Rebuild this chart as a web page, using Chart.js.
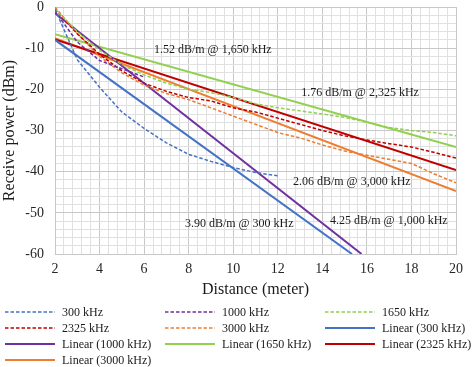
<!DOCTYPE html>
<html lang="en">
<head>
  <meta charset="UTF-8">
  <title>Receive power vs distance</title>
  <script src="https://cdn.jsdelivr.net/npm/chart.js"></script>
  <style>
    html, body { margin: 0; padding: 0; background: #fff; }
    canvas { display: block; }
  </style>
</head>
<body>
  <canvas id="chart" width="474" height="367"></canvas>

  <script>
    // Measured receive power (dBm) at each distance (m)
    const dist300 = [2, 3, 4, 5, 6, 7, 8, 9, 10, 11, 12];
    const p300 = [-0.5, -12.8, -19.5, -25.5, -29.5, -33, -35.8, -37.5, -39, -40.2, -41];
    const dist1000 = [2, 3, 4, 5, 6];
    const p1000 = [-1, -8.5, -13, -15, -17];
    const distFull = [2, 3, 4, 5, 6, 7, 8, 9, 10, 11, 12, 13, 14, 15, 16, 17, 18, 19, 20];
    const p1650 = [-0.5, -6, -10.5, -14, -16.5, -18.5, -20, -20.8, -22, -23.5, -24.5, -25.2, -26, -26.8, -28, -29.3, -30, -30.5, -31.3];
    const p2325 = [-0.5, -6.5, -11.5, -15.5, -18.5, -20.5, -22, -22.8, -24.5, -25.5, -27, -28.5, -30, -31.3, -32.3, -33.2, -34, -35.3, -36.7];
    const p3000 = [0, -6.5, -12, -16, -19, -21, -22.5, -24.5, -26.5, -28.5, -30.5, -31.8, -33.5, -35, -36, -37, -38, -40.5, -42.7];

    // Trendline end points
    const lin300X = [2, 15.33], lin300Y = [-8, -60];
    const lin1000X = [2, 15.76], lin1000Y = [-1.5, -60];
    const lin1650X = [2, 20], lin1650Y = [-6.6, -34];
    const lin2325X = [2, 20], lin2325Y = [-7.9, -39.6];
    const lin3000X = [2, 20], lin3000Y = [-7.6, -44.7];

    const seriesNames = ["300 kHz", "1000 kHz", "1650 kHz", "2325 kHz", "3000 kHz"];
    const colors = ["#4472C4", "#7030A0", "#92D050", "#C00000", "#ED7D31"];

    // Slope labels
    const noteText = ["1.52 dB/m @ 1,650 kHz", "1.76 dB/m @ 2,325 kHz", "2.06 dB/m @ 3,000 kHz", "3.90 dB/m @ 300 kHz", "4.25 dB/m @ 1,000 kHz"];
    const noteX = [6.44, 13.05, 12.68, 7.83, 14.34];
    const noteY = [-10.4, -20.9, -42.5, -52.7, -52.0];

    const serif = "'Liberation Serif', 'Times New Roman', serif";

    function pts(xs, ys) {
      return xs.map((x, i) => ({ x: x, y: ys[i] }));
    }

    const measured = [pts(dist300, p300), pts(dist1000, p1000), pts(distFull, p1650), pts(distFull, p2325), pts(distFull, p3000)];
    const trends = [pts(lin300X, lin300Y), pts(lin1000X, lin1000Y), pts(lin1650X, lin1650Y), pts(lin2325X, lin2325Y), pts(lin3000X, lin3000Y)];

    const datasets = [];
    measured.forEach((d, i) => {
      datasets.push({
        label: seriesNames[i], data: d, borderColor: colors[i],
        borderWidth: 1.5, borderDash: [3.5, 2], pointRadius: 0, fill: false
      });
    });
    trends.forEach((d, i) => {
      datasets.push({
        label: "Linear (" + seriesNames[i] + ")", data: d, borderColor: colors[i],
        borderWidth: 2, borderDash: [], pointRadius: 0, fill: false
      });
    });

    const isMult = (v, m) => Math.abs(v - Math.round(v / m) * m) < 1e-6;

    // legend in 3 columns + slope notes
    const extras = {
      id: "extras",
      afterDraw(chart) {
        const ctx = chart.ctx;
        ctx.save();
        ctx.font = "12px " + serif;
        ctx.fillStyle = "#1a1a1a";
        ctx.textBaseline = "middle";
        const xs = chart.scales.x, ys = chart.scales.y;
        noteText.forEach((t, i) => {
          ctx.fillText(t, xs.getPixelForValue(noteX[i]), ys.getPixelForValue(noteY[i]));
        });
        const colX = [5, 165, 325];
        chart.data.datasets.forEach((ds, i) => {
          const x0 = colX[i % 3];
          const y = 312 + Math.floor(i / 3) * 16;
          ctx.strokeStyle = ds.borderColor;
          ctx.lineWidth = ds.borderWidth;
          ctx.setLineDash(ds.borderDash);
          ctx.beginPath();
          ctx.moveTo(x0, y);
          ctx.lineTo(x0 + 50, y);
          ctx.stroke();
          ctx.setLineDash([]);
          ctx.fillText(ds.label, x0 + 57, y + 1);
        });
        ctx.restore();
      }
    };

    new Chart(document.getElementById("chart"), {
      type: "line",
      data: { datasets: datasets },
      options: {
        responsive: false,
        animation: false,
        layout: { padding: { top: 7, right: 18, bottom: 68, left: 0 } },
        plugins: { legend: { display: false }, tooltip: { enabled: false } },
        scales: {
          x: {
            type: "linear", min: 2, max: 20,
            afterFit: s => { s.height = 45; s.paddingLeft = 0; s.paddingRight = 0; },
            ticks: {
              stepSize: 0.4, autoSkip: false, maxRotation: 0, padding: 7,
              color: "#262626", font: { family: serif, size: 14 },
              callback: v => isMult(v, 2) ? Math.round(v) : ""
            },
            grid: {
              drawTicks: false,
              color: c => isMult(c.tick.value, 2) ? "#c8c8c8" : "#e0e0e0"
            },
            border: { color: "#c8c8c8" },
            title: {
              display: true, text: "Distance (meter)", color: "#1a1a1a",
              font: { family: serif, size: 16 }, padding: 0
            }
          },
          y: {
            min: -60, max: 0,
            afterFit: s => { s.width = 55; s.paddingTop = 0; s.paddingBottom = 0; },
            ticks: {
              stepSize: 2, autoSkip: false, padding: 11,
              color: "#262626", font: { family: serif, size: 14 },
              callback: v => isMult(v, 10) ? Math.round(v) : ""
            },
            grid: {
              drawTicks: false,
              color: c => isMult(c.tick.value, 10) ? "#c8c8c8" : "#e0e0e0"
            },
            border: { color: "#c8c8c8" },
            title: {
              display: true, text: "Receive power (dBm)", color: "#1a1a1a",
              font: { family: serif, size: 16 }, padding: 0
            }
          }
        }
      },
      plugins: [extras]
    });
  </script>
</body>
</html>
